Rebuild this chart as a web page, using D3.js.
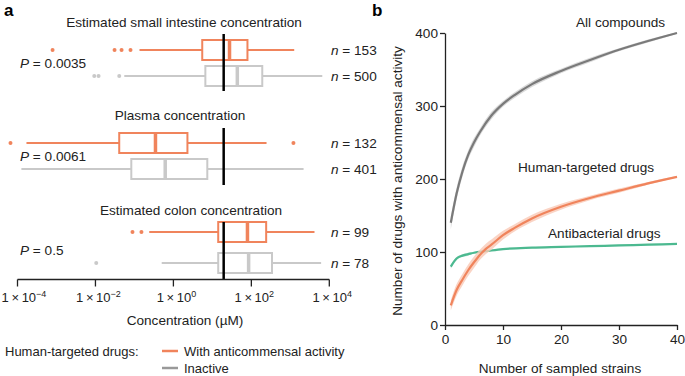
<!DOCTYPE html>
<html>
<head>
<meta charset="utf-8">
<script src="https://cdn.jsdelivr.net/npm/d3@7"></script>
<style>
  body { margin: 0; background: #fff; }
  svg { font-family: "Liberation Sans", Arial, sans-serif; }
</style>
</head>
<body>
<svg id="chart" width="685" height="376"></svg>
<script>
// ---- panel a data (log10 of concentration, uM) ----
let groups = ["Estimated small intestine concentration", "Plasma concentration", "Estimated colon concentration"];
let p_values = ["0.0035", "0.0061", "0.5"];
// [whisker_lo, q1, median, q3, whisker_hi]
let active_stats = [[-0.87, 0.74, 1.44, 1.90, 3.10], [-3.77, -1.39, -0.46, 0.36, 2.39], [-0.62, 1.15, 1.90, 2.38, 3.62]];
let inactive_stats = [[-1.26, 0.82, 1.64, 2.28, 3.82], [-3.90, -1.08, -0.21, 0.87, 3.34], [-0.30, 1.15, 1.93, 2.53, 3.79]];
let active_outliers = [[-3.10, -1.51, -1.33, -1.10], [-4.18, 3.08], [-1.05, -0.82]];
let inactive_outliers = [[-2.03, -1.92, -1.39], [], [-1.98]];
let active_n = [153, 132, 99];
let inactive_n = [500, 401, 78];
let threshold_log = 1.29;
let conc_ticks = [-4, -2, 0, 2, 4];

// ---- panel b data ----
let strains_all = [1, 2, 3, 4, 5, 6, 8, 10, 12, 15, 20, 25, 30, 35, 40];
let all_compounds = [140, 180, 210, 233, 250, 264, 287, 303, 315, 330, 348, 363, 377, 389, 400];
let all_ci = [9, 8, 7, 6, 6, 5, 5, 4, 4, 4, 3, 3, 2, 2, 1];
let strains_human = [1, 2, 3, 4, 5, 6, 7, 8, 10, 12, 15, 20, 25, 30, 35, 40];
let human_drugs = [27, 48, 62, 75, 86, 96, 104, 110, 123, 133, 146, 162, 174, 184, 194, 203];
let human_ci = [7, 8, 8, 8, 8, 7, 7, 7, 6, 5, 5, 4, 3, 3, 2, 1];
let strains_anti = [1, 2, 3, 4, 5, 7, 10, 15, 20, 25, 30, 35, 40];
let antibacterial = [80, 91, 95, 97, 99, 101, 104, 106, 107, 108, 109, 110, 111];
let anti_ci = [3, 2, 2, 2, 1, 1, 1, 1, 1, 1, 1, 1, 1];
let y_ticks_b = [0, 100, 200, 300, 400];
let x_ticks_b = [0, 10, 20, 30, 40];

let orange = "#f0845c";
let grey_box = "#c9c9c9";
let grey_line = "#7a7a7a";
let green = "#4cb990";
let fs = 13.6;

let svg = d3.select("#chart");

// ================= panel a =================
svg.append("text").attr("x", 4).attr("y", 16).attr("font-size", 17).attr("font-weight", "bold").text("a");

let x = d3.scaleLinear().domain([-4, 4]).range([17.5, 329.3]);

let group_title_y = [27, 120, 215];
let group_title_x = [184, 180, 191];
let row_active_y = [50, 143, 232];
let row_inactive_y = [76, 169, 263];
let box_h = 20;

let ga = svg.append("g").attr("class", "panel_a");

groups.forEach((g, i) => {
  ga.append("text").attr("x", group_title_x[i]).attr("y", group_title_y[i])
    .attr("text-anchor", "middle").attr("font-size", fs).attr("fill", "#222").text(g);

  let rows = [
    {stats: active_stats[i], out: active_outliers[i], y: row_active_y[i], color: orange, n: active_n[i]},
    {stats: inactive_stats[i], out: inactive_outliers[i], y: row_inactive_y[i], color: grey_box, n: inactive_n[i]}
  ];
  rows.forEach(r => {
    let s = r.stats;
    let row = ga.append("g");
    row.append("line").attr("x1", x(s[0])).attr("x2", x(s[1])).attr("y1", r.y).attr("y2", r.y)
      .attr("stroke", r.color).attr("stroke-width", 2);
    row.append("line").attr("x1", x(s[3])).attr("x2", x(s[4])).attr("y1", r.y).attr("y2", r.y)
      .attr("stroke", r.color).attr("stroke-width", 2);
    row.append("rect").attr("x", x(s[1])).attr("y", r.y - box_h / 2)
      .attr("width", x(s[3]) - x(s[1])).attr("height", box_h)
      .attr("fill", "none").attr("stroke", r.color).attr("stroke-width", 2);
    row.append("line").attr("x1", x(s[2])).attr("x2", x(s[2])).attr("y1", r.y - box_h / 2).attr("y2", r.y + box_h / 2)
      .attr("stroke", r.color).attr("stroke-width", 3.5);
    row.selectAll(".out").data(r.out).enter().append("circle")
      .attr("cx", d => x(d)).attr("cy", r.y).attr("r", 2).attr("fill", r.color);
    let nt = row.append("text").attr("x", 331).attr("y", r.y + 5).attr("font-size", fs).attr("fill", "#222");
    nt.append("tspan").attr("font-style", "italic").text("n");
    nt.append("tspan").text(" = " + r.n);
  });

  let pt = ga.append("text").attr("x", 20).attr("y", [68, 161, 255][i]).attr("font-size", fs).attr("fill", "#222");
  pt.append("tspan").attr("font-style", "italic").text("P");
  pt.append("tspan").text(" = " + p_values[i]);
});

// threshold line segments
let thr_spans = [[34, 91], [128, 185], [222, 280]];
ga.selectAll(".thr").data(thr_spans).enter().append("line")
  .attr("x1", x(threshold_log)).attr("x2", x(threshold_log))
  .attr("y1", d => d[0]).attr("y2", d => d[1])
  .attr("stroke", "#000").attr("stroke-width", 2.5);

// concentration axis
let axis_a = ga.append("g").attr("transform", "translate(0,279.5)");
axis_a.append("line").attr("x1", x(-4)).attr("x2", x(4)).attr("stroke", "#222").attr("stroke-width", 1.3);
axis_a.selectAll(".tk").data(conc_ticks).enter().append("line")
  .attr("x1", d => x(d)).attr("x2", d => x(d)).attr("y1", 0).attr("y2", 7)
  .attr("stroke", "#222").attr("stroke-width", 1.3);
let tl = axis_a.selectAll(".tl").data(conc_ticks).enter().append("text")
  .attr("x", d => Math.max(x(d) + 3, 24)).attr("y", 22).attr("text-anchor", "middle").attr("font-size", 13).attr("fill", "#222");
tl.append("tspan").text("1\u2009×\u200910");
tl.append("tspan").attr("dy", -5).attr("font-size", 9).text(d => d < 0 ? "−" + (-d) : d);

ga.append("text").attr("x", 185).attr("y", 325).attr("text-anchor", "middle").attr("font-size", fs).attr("fill", "#222")
  .text("Concentration (µM)");

// legend
ga.append("text").attr("x", 5).attr("y", 356).attr("font-size", 13).attr("fill", "#222").text("Human-targeted drugs:");
let legend_items = [{label: "With anticommensal activity", color: orange, y: 351}, {label: "Inactive", color: "#999", y: 368}];
legend_items.forEach(l => {
  ga.append("line").attr("x1", 162).attr("x2", 178).attr("y1", l.y).attr("y2", l.y)
    .attr("stroke", l.color).attr("stroke-width", 2.5);
  ga.append("text").attr("x", 184).attr("y", l.y + 5).attr("font-size", 13).attr("fill", "#222").text(l.label);
});

// ================= panel b =================
svg.append("text").attr("x", 372).attr("y", 16).attr("font-size", 17).attr("font-weight", "bold").text("b");

let bx = d3.scaleLinear().domain([0, 40]).range([445, 677]);
let by = d3.scaleLinear().domain([0, 400]).range([325, 33]);

let gb = svg.append("g").attr("class", "panel_b");

let series = [
  {xs: strains_all, ys: all_compounds, ci: all_ci, color: grey_line, band: "#d0d0d0"},
  {xs: strains_anti, ys: antibacterial, ci: anti_ci, color: green, band: "#b7e3d2"},
  {xs: strains_human, ys: human_drugs, ci: human_ci, color: orange, band: "#f9c9b6"}
];

let area = d3.area().curve(d3.curveMonotoneX)
  .x(d => bx(d[0])).y0(d => by(d[1] - d[2])).y1(d => by(d[1] + d[2]));
let line = d3.line().curve(d3.curveMonotoneX).x(d => bx(d[0])).y(d => by(d[1]));

series.forEach(s => {
  let pts = s.xs.map((v, i) => [v, s.ys[i], s.ci[i]]);
  gb.append("path").attr("d", area(pts)).attr("fill", s.band).attr("opacity", 0.8);
  gb.append("path").attr("d", line(pts)).attr("fill", "none").attr("stroke", s.color).attr("stroke-width", 2.2);
});

let yAxis = gb.append("g").attr("transform", "translate(445,0)")
  .call(d3.axisLeft(by).tickValues(y_ticks_b).tickSize(5).tickSizeOuter(0));
let xAxis = gb.append("g").attr("transform", "translate(0,325)")
  .call(d3.axisBottom(bx).tickValues(x_ticks_b).tickSize(5).tickSizeOuter(0));
[yAxis, xAxis].forEach(a => {
  a.select(".domain").attr("stroke", "#222").attr("stroke-width", 1.3);
  a.selectAll(".tick line").attr("stroke", "#222").attr("stroke-width", 1.3);
  a.selectAll(".tick text").attr("font-size", fs).attr("fill", "#222")
    .attr("font-family", "Liberation Sans, Arial, sans-serif");
});
yAxis.selectAll(".tick text").attr("x", -7);
xAxis.selectAll(".tick text").attr("y", 9);

gb.append("text").attr("x", 560).attr("y", 373).attr("text-anchor", "middle").attr("font-size", fs).attr("fill", "#222")
  .text("Number of sampled strains");
gb.append("text").attr("transform", "translate(402,181) rotate(-90)").attr("text-anchor", "middle")
  .attr("font-size", fs).attr("fill", "#222").text("Number of drugs with anticommensal activity");

gb.append("text").attr("x", 576).attr("y", 27).attr("font-size", fs).attr("fill", "#222").text("All compounds");
gb.append("text").attr("x", 518).attr("y", 172).attr("font-size", fs).attr("fill", "#222").text("Human-targeted drugs");
gb.append("text").attr("x", 548).attr("y", 238).attr("font-size", fs).attr("fill", "#222").text("Antibacterial drugs");
</script>
</body>
</html>
